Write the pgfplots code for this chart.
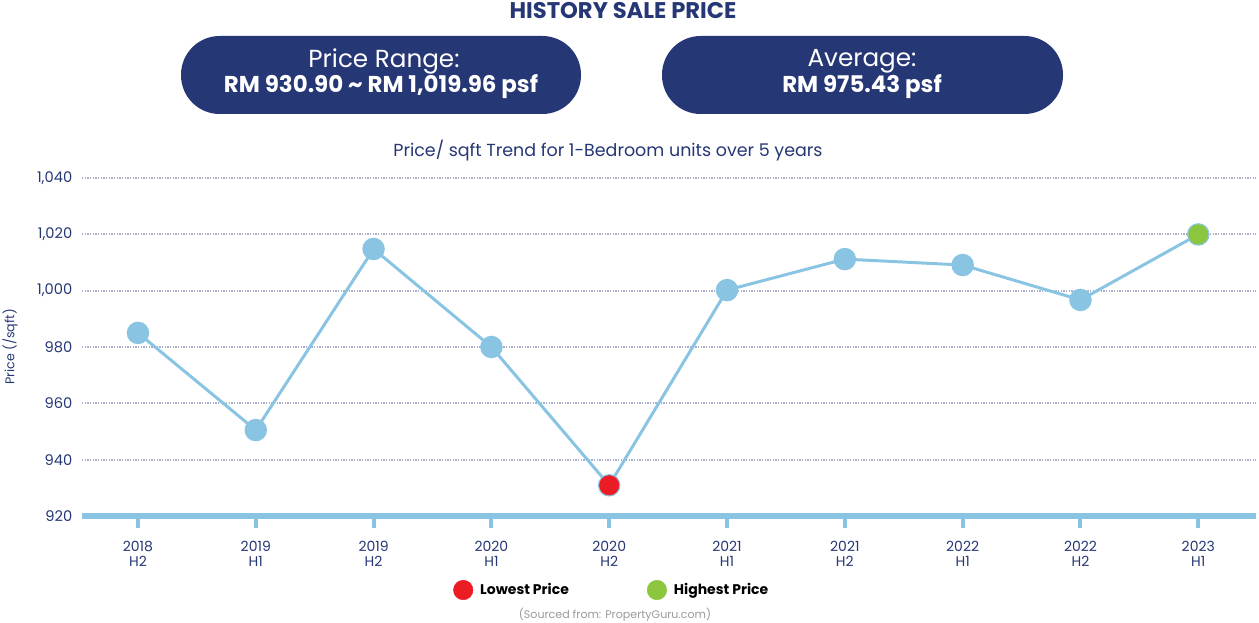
\documentclass[border=0pt]{standalone}
\usepackage{pgfplots}
\pgfplotsset{compat=1.18}
\usepackage{fontspec}
\setmainfont{Poppins}
\definecolor{navy}{HTML}{263775}
\definecolor{lblue}{HTML}{89C5E2}
\definecolor{gridc}{HTML}{A9AFCB}
\definecolor{lred}{HTML}{EC1C24}
\definecolor{lgreen}{HTML}{8CC63F}
\definecolor{srcgray}{HTML}{9A9A9A}
\begin{document}
\begin{tikzpicture}[x=0.75pt,y=0.75pt]
\path[use as bounding box] (0,0) rectangle (1259,623);
% title
\node[text=navy, font=\fontsize{17}{20}\selectfont\bfseries] at (623,612) {HISTORY SALE PRICE};
% boxes
\fill[navy, rounded corners=29pt] (181,509) rectangle (581,587);
\fill[navy, rounded corners=29pt] (662,509) rectangle (1063,587);
\node[text=white, font=\fontsize{18.5}{22}\selectfont] at (384,562) {Price Range:};
\node[text=white, font=\fontsize{17.2}{20}\selectfont\bfseries] at (381,536) {RM 930.90 \textasciitilde{} RM 1,019.96 psf};
\node[text=white, font=\fontsize{18.5}{22}\selectfont] at (862,562) {Average:};
\node[text=white, font=\fontsize{17.2}{20}\selectfont\bfseries] at (862,536) {RM 975.43 psf};
% subtitle
\node[text=navy, font=\fontsize{13.1}{15}\selectfont] at (608,472) {Price/ sqft Trend for 1-Bedroom units over 5 years};
% y label
\node[text=navy, rotate=90, font=\fontsize{9.5}{11}\selectfont] at (10,276) {Price (/sqft)};
% source
\node[text=srcgray, font=\fontsize{8.3}{10}\selectfont] at (615,8) {(Sourced from: PropertyGuru.com)};
\begin{axis}[
  at={(61.5pt,80.25pt)}, anchor=south west,
  scale only axis, width=880.5pt, height=253.5pt,
  xmin=-0.475, xmax=9.49, ymin=920, ymax=1040,
  axis x line*=bottom, axis y line*=left,
  x axis line style={lblue, line width=4.5pt, -},
  y axis line style={draw=none},
  ytick={920,940,...,1040},
  ytick style={draw=none},
  xtick={0,...,9},
  xticklabels={{2018\\H2},{2019\\H1},{2019\\H2},{2020\\H1},{2020\\H2},{2021\\H1},{2021\\H2},{2022\\H1},{2022\\H2},{2023\\H1}},
  xtick align=outside,
  major tick length=9pt,
  xtick style={lblue, line width=3pt},
  xticklabel style={align=center, text=navy, yshift=-6pt, font=\fontsize{10.5}{11.5}\selectfont},
  yticklabel style={text=navy, xshift=-3.75pt, font=\fontsize{11}{12}\selectfont},
  /pgf/number format/assume math mode=true,
  /pgf/number format/1000 sep={,},
  ymajorgrids, grid style={gridc, dash pattern=on 1pt off 1pt, line width=1.4pt},
  clip=false,
  legend style={at={(0.4515,-0.219)}, anchor=center, draw=none, fill=none,
    legend columns=2, font=\fontsize{10.5}{12}\selectfont\bfseries,
    /tikz/every even column/.append style={column sep=56.5pt}},
  legend image code/.code={\fill[#1] (0cm,0cm) circle (7.3pt); \path (0.37cm,0cm);},
]
\addplot[lblue, line width=2.25pt, mark=*, mark size=7.3pt, mark options={fill=lblue, draw=none}, forget plot] coordinates {
(0,985.0) (1,950.5) (2,1014.8) (3,980.0) (4,930.9) (5,1000.2) (6,1011.2) (7,1009.1) (8,996.7) (9,1019.96)
};
\addplot[lred, only marks, mark=*, mark size=7.3pt, mark options={fill=lred, draw=none}] coordinates {(4,930.9)};
\addlegendentry{Lowest Price}
\addplot[lgreen, only marks, mark=*, mark size=7.3pt, mark options={fill=lgreen, draw=none}] coordinates {(9,1019.96)};
\addlegendentry{Highest Price}
\end{axis}
\end{tikzpicture}
\end{document}
